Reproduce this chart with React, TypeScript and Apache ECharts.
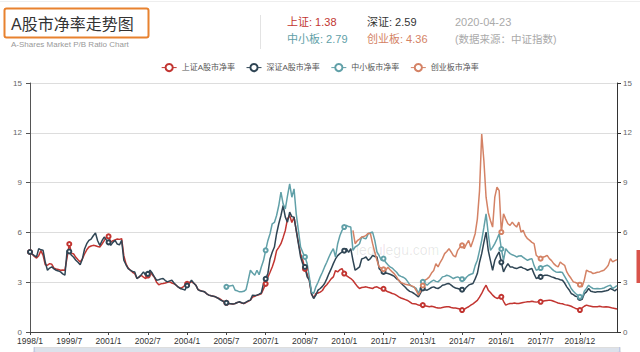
import React, { useEffect, useRef } from 'react';
import * as echarts from 'echarts';

const FONT = "'Liberation Sans', 'Noto Sans CJK SC', sans-serif";
const seriesNames = ['上证A股市净率', '深证A股市净率', '中小板市净率', '创业板市净率'];
const seriesColors = ['#c23531', '#2f4554', '#61a0a8', '#d48265'];
const xTickLabels = ['1998/1', '1999/7', '2001/1', '2002/7', '2004/1', '2005/7', '2007/1', '2008/7', '2010/1', '2011/7', '2013/1', '2014/7', '2016/1', '2017/7', '2018/12'];
const LABEL_STEP = 18;

// 上证A股市净率 (monthly points)
const shPB = [
  4.82, 4.68, 4.55, 4.45, 4.6, 4.9, 4.62, 4.05, 4.02, 4.12,
  4.08, 3.85, 3.8, 3.76, 3.72, 3.74, 3.72, 4.5, 5.3, 4.75,
  4.7, 4.5, 4.35, 4.22, 4.4, 4.7, 4.95, 5.12, 5.18, 5.22,
  5.2, 5.15, 5.12, 5.3, 5.5, 5.7, 5.76, 5.42, 5.5, 5.55,
  5.6, 5.58, 5.62, 4.6, 4.1, 3.85, 3.72, 3.6, 3.52, 3.25,
  3.3, 3.42, 3.3, 3.22, 3.4, 3.62, 3.45, 3.3, 3.0, 2.85,
  2.9, 2.92, 2.95, 3.0, 3.02, 2.95, 2.9, 2.82, 2.7, 2.62,
  2.7, 2.82, 2.9, 2.98, 3.02, 2.95, 2.82, 2.55, 2.5, 2.45,
  2.42, 2.3, 2.22, 2.18, 2.15, 2.12, 2.05, 2.0, 1.9, 1.82,
  1.76, 1.72, 1.7, 1.68, 1.72, 1.78, 1.8, 1.75, 1.72, 1.78,
  1.85, 1.92, 2.1, 2.15, 2.22, 2.25, 2.3, 2.6, 2.9, 3.3,
  3.6, 3.92, 4.3, 4.9, 5.1, 5.32, 5.7, 6.12, 6.82, 7.02,
  6.6, 6.92, 6.12, 5.4, 4.7, 4.32, 3.8, 3.5, 3.12, 2.3,
  2.05, 2.32, 2.35, 2.4, 2.5, 2.72, 2.85, 3.02, 3.2, 3.32,
  3.7, 3.62, 3.75, 3.82, 3.52, 3.4, 3.3, 3.22, 3.1, 2.92,
  2.75, 2.62, 2.68, 2.7, 2.72, 2.68, 2.65, 2.62, 2.7, 2.72,
  2.65, 2.6, 2.6, 2.5, 2.42, 2.38, 2.32, 2.28, 2.2, 2.12,
  2.05, 2.0, 1.95, 1.9, 1.82, 1.72, 1.7, 1.68, 1.62, 1.6,
  1.62, 1.58, 1.55, 1.52, 1.55, 1.52, 1.48, 1.45, 1.44, 1.48,
  1.5, 1.52, 1.52, 1.48, 1.45, 1.44, 1.42, 1.38, 1.32, 1.36,
  1.45, 1.52, 1.62, 1.7, 1.8, 1.9, 2.1, 2.32, 2.6, 2.82,
  2.52, 2.38, 2.22, 2.1, 2.02, 2.08, 2.12, 1.85, 1.62, 1.68,
  1.72, 1.72, 1.75, 1.72, 1.72, 1.75, 1.78, 1.8, 1.82, 1.82,
  1.85, 1.82, 1.8, 1.82, 1.82, 1.85, 1.88, 1.9, 1.92, 1.9,
  1.85, 1.8, 1.75, 1.72, 1.7, 1.65, 1.62, 1.6, 1.55, 1.48,
  1.42, 1.38, 1.32, 1.45, 1.55, 1.62, 1.58, 1.55, 1.52, 1.52,
  1.52, 1.55, 1.52, 1.5, 1.52, 1.5, 1.48, 1.44, 1.42, 1.38,
];

// 深证A股市净率
const szPB = [
  4.82, 4.7, 4.6, 4.52, 5.02, 4.95, 4.92, 4.2, 3.72, 3.85,
  3.92, 3.8, 3.72, 3.68, 3.62, 3.5, 3.42, 4.9, 4.85, 4.62,
  4.5, 4.32, 4.2, 4.05, 4.4, 5.0, 5.32, 5.52, 5.6, 5.8,
  5.96, 5.5, 5.22, 5.5, 5.72, 5.55, 5.4, 5.22, 5.4, 5.52,
  5.3, 5.25, 5.52, 4.32, 4.05, 3.82, 3.72, 3.65, 3.62, 3.22,
  3.32, 3.45, 3.62, 3.42, 3.5, 3.72, 3.55, 3.32, 3.12, 3.15,
  3.2, 3.22, 3.1, 3.02, 3.08, 3.12, 2.95, 2.82, 2.7, 2.62,
  2.58, 2.52, 2.8, 2.92, 3.12, 2.95, 2.82, 2.55, 2.48, 2.45,
  2.42, 2.3, 2.22, 2.18, 2.15, 2.12, 2.05, 1.95, 1.88, 1.82,
  1.76, 1.72, 1.7, 1.68, 1.72, 1.78, 1.82, 1.76, 1.72, 1.8,
  1.88, 1.92, 2.22, 2.2, 2.22, 2.28, 2.35, 2.92, 3.2, 3.52,
  4.4, 4.8, 5.12, 5.92, 6.52, 7.02, 7.62, 6.92, 6.62, 7.22,
  6.95, 6.92, 6.12, 5.32, 4.52, 4.1, 3.92, 3.32, 3.12, 2.3,
  2.02, 2.22, 2.52, 2.62, 2.75, 2.92, 3.2, 3.52, 3.8, 4.12,
  4.4, 4.6, 4.72, 4.82, 4.9, 5.02, 4.8, 5.02, 4.32, 3.72,
  3.82, 3.92, 4.4, 4.45, 4.52, 4.32, 4.42, 4.62, 4.55, 4.52,
  3.82, 3.7, 3.62, 3.55, 3.52, 3.48, 3.42, 3.35, 3.2, 3.12,
  2.95, 2.82, 2.7, 2.55, 2.45, 2.4, 2.32, 2.22, 2.12, 2.35,
  2.62, 2.55, 2.52, 2.6, 2.68, 2.72, 2.65, 2.62, 2.7, 2.82,
  2.85, 2.9, 2.92, 2.82, 2.72, 2.65, 2.62, 2.58, 2.55, 2.52,
  2.7, 2.82, 2.88, 2.92, 3.2, 3.52, 4.2, 4.72, 5.4, 6.02,
  4.92, 4.3, 3.72, 4.32, 4.6, 4.82, 4.2, 3.62, 3.9, 4.12,
  3.92, 3.92, 3.85, 3.82, 3.88, 3.92, 3.85, 3.8, 3.72, 3.78,
  3.82, 3.5, 3.22, 3.28, 3.32, 3.38, 3.42, 3.42, 3.38, 3.32,
  3.28, 3.22, 3.2, 3.15, 3.12, 2.95, 2.72, 2.55, 2.32, 2.25,
  2.15, 2.12, 2.05, 1.96, 2.3, 2.42, 2.62, 2.45, 2.42, 2.4,
  2.42, 2.42, 2.42, 2.45, 2.48, 2.52, 2.62, 2.55, 2.48, 2.59,
];

// 中小板市净率 (from point 90)
const SME_START = 90;
const smePB = [
  2.72, 2.75, 2.78, 2.82, 2.52, 2.48, 2.42, 2.42, 2.45, 2.55,
  3.12, 3.72, 3.55, 3.42, 3.72, 3.45, 3.92, 4.3, 4.92, 5.5,
  5.92, 6.52, 6.6, 7.02, 7.62, 8.42, 7.72, 7.42, 8.2, 8.92,
  8.12, 8.62, 7.12, 6.12, 5.12, 4.8, 4.52, 4.12, 3.32, 2.4,
  2.32, 2.72, 3.0, 3.32, 3.6, 3.92, 4.2, 4.52, 4.8, 5.02,
  4.52, 5.32, 5.8, 6.12, 6.32, 6.42, 6.35, 6.32, 4.92, 5.12,
  5.2, 5.32, 5.72, 5.65, 5.62, 5.92, 5.98, 6.02, 5.52, 4.82,
  4.6, 4.32, 4.42, 4.2, 4.05, 3.92, 3.85, 3.72, 3.6, 3.42,
  3.35, 3.3, 3.22, 3.05, 2.85, 2.75, 2.7, 2.62, 2.32, 2.7,
  3.02, 2.92, 2.82, 2.95, 3.05, 3.12, 3.05, 3.02, 3.15, 3.32,
  3.35, 3.42, 3.38, 3.3, 3.22, 3.28, 3.32, 3.25, 3.18, 3.12,
  3.3, 3.42, 3.48, 3.52, 4.0, 4.32, 4.9, 5.52, 6.3, 7.12,
  5.92, 4.92, 5.1, 5.32, 5.6, 5.92, 5.0, 4.32, 5.02, 4.85,
  4.72, 4.65, 4.6, 4.52, 4.58, 4.6, 4.5, 4.4, 4.32, 4.38,
  4.42, 4.0, 3.72, 3.78, 3.85, 3.92, 3.98, 4.02, 3.95, 3.82,
  3.7, 3.62, 3.6, 3.62, 3.58, 3.35, 3.12, 2.9, 2.62, 2.45,
  2.32, 2.22, 2.12, 2.02, 2.45, 2.62, 2.82, 2.7, 2.62, 2.6,
  2.62, 2.6, 2.62, 2.65, 2.72, 2.78, 2.82, 2.62, 2.7, 2.79,
];

// 创业板市净率 (from point 148)
const GEM_START = 148;
const gemPB = [
  6.12, 5.32,
  5.5, 5.6, 5.72, 5.75, 5.82, 5.95, 5.92, 5.32, 4.8, 4.32,
  3.92, 3.85, 3.78, 3.72, 3.9, 3.75, 3.62, 3.5, 3.32, 3.1,
  2.98, 2.92, 2.88, 2.85, 2.82, 2.78, 2.72, 2.5, 2.22, 2.45,
  2.8, 3.12, 3.2, 3.32, 3.55, 3.7, 4.12, 3.92, 4.2, 4.42,
  4.72, 4.85, 5.02, 4.82, 4.6, 4.52, 4.92, 5.1, 5.22, 5.02,
  5.3, 5.52, 5.12, 5.5, 5.92, 6.8, 8.5, 11.92, 10.32, 8.12,
  7.2, 6.72, 6.32, 8.12, 8.72, 8.52, 6.02, 7.12, 6.8, 6.52,
  6.42, 6.62, 6.45, 6.32, 6.62, 6.02, 6.12, 5.8, 5.62, 5.52,
  5.4, 5.32, 4.62, 4.5, 4.42, 4.5, 4.55, 4.62, 4.42, 4.3,
  4.12, 4.0, 3.92, 4.22, 4.1, 4.02, 3.62, 3.4, 3.22, 3.02,
  2.98, 2.92, 2.85, 2.72, 3.12, 3.72, 3.65, 3.62, 3.52, 3.55,
  3.6, 3.62, 3.68, 3.72, 3.85, 4.02, 4.42, 4.22, 4.3, 4.36,
];

const POINT_COUNT = shPB.length;
const categories: string[] = [];
for (let k = 0; k < POINT_COUNT; k++) {
  categories.push(`${1998 + Math.floor(k / 12)}/${(k % 12) + 1}`);
}
const tickLabelMap: Record<string, string> = {};
xTickLabels.forEach((lab, k) => {
  const c = categories[k * LABEL_STEP];
  if (c !== undefined) tickLabelMap[c] = lab;
});

const pad = (start: number, arr: number[]) => (new Array(start).fill(null) as (number | null)[]).concat(arr);

export default function App() {
  const ref = useRef<HTMLDivElement>(null);
  useEffect(() => {
    if (!ref.current) return;
    const chart = echarts.init(ref.current, null, { renderer: 'svg' });
    const seriesData = [shPB, szPB, pad(SME_START, smePB), pad(GEM_START, gemPB)];
    chart.setOption({
      animation: false,
      backgroundColor: '#ffffff',
      color: seriesColors,
      textStyle: { fontFamily: FONT },
      graphic: [
        { type: 'line', shape: { x1: 0, y1: 1.5, x2: 640, y2: 1.5 }, style: { stroke: '#eeeeee', lineWidth: 1 } },
        { type: 'rect', shape: { x: 4.5, y: 8.5, width: 144, height: 29, r: 2 }, style: { fill: 'none', stroke: '#e8822f', lineWidth: 2 } },
        { type: 'text', x: 11, y: 24, style: { text: 'A股市净率走势图', fill: '#333', font: `16px ${FONT}`, verticalAlign: 'middle', align: 'left' } },
        { type: 'text', x: 11, y: 44, style: { text: 'A-Shares Market P/B Ratio Chart', fill: '#999', font: `8px ${FONT}`, verticalAlign: 'middle', align: 'left' } },
        { type: 'line', shape: { x1: 260.5, y1: 15, x2: 260.5, y2: 49 }, style: { stroke: '#e3e3e3', lineWidth: 1 } },
        { type: 'text', x: 287, y: 22, style: { text: '上证: 1.38', fill: '#c23531', font: `11px ${FONT}`, verticalAlign: 'middle' } },
        { type: 'text', x: 287, y: 38.5, style: { text: '中小板: 2.79', fill: '#61a0a8', font: `11px ${FONT}`, verticalAlign: 'middle' } },
        { type: 'text', x: 367, y: 22, style: { text: '深证: 2.59', fill: '#333', font: `11px ${FONT}`, verticalAlign: 'middle' } },
        { type: 'text', x: 367, y: 38.5, style: { text: '创业板: 4.36', fill: '#d48265', font: `11px ${FONT}`, verticalAlign: 'middle' } },
        { type: 'text', x: 455, y: 22, style: { text: '2020-04-23', fill: '#aaa', font: `11px ${FONT}`, verticalAlign: 'middle' } },
        { type: 'text', x: 455, y: 39, style: { text: '(数据来源：中证指数)', fill: '#aaa', font: `10.5px ${FONT}`, verticalAlign: 'middle' } },
        { type: 'text', x: 356, y: 250, z: -1, style: { text: 'legulegu.com', fill: 'rgba(0,0,0,0.1)', font: `14px ${FONT}`, verticalAlign: 'middle' } },
        { type: 'rect', shape: { x: 636.5, y: 250, width: 4, height: 33 }, style: { fill: '#d9534a' } },
      ],
      legend: {
        data: seriesNames,
        top: 58,
        left: 'center',
        itemWidth: 15,
        itemHeight: 9,
        itemGap: 11,
        itemStyle: { borderWidth: 1 },
        lineStyle: { width: 1 },
        textStyle: { fontSize: 8, color: '#555' },
      },
      grid: { left: 30, width: 587, top: 83, height: 249 },
      xAxis: {
        type: 'category',
        data: categories,
        boundaryGap: false,
        axisLine: { lineStyle: { color: '#444' } },
        axisTick: { interval: LABEL_STEP - 1, length: 3, lineStyle: { color: '#444' } },
        axisLabel: {
          interval: LABEL_STEP - 1,
          fontSize: 8.5,
          color: '#333',
          margin: 5,
          formatter: (v: string) => tickLabelMap[v] ?? '',
        },
        splitLine: { show: false },
      },
      yAxis: [
        {
          type: 'value', min: 0, max: 15, interval: 3, position: 'left',
          axisLine: { show: true, lineStyle: { color: '#555' } },
          axisTick: { show: true, length: 4, lineStyle: { color: '#555' } },
          axisLabel: { fontSize: 8, color: '#666', margin: 8 },
          splitLine: { show: true, lineStyle: { color: '#dddddd' } },
        },
        {
          type: 'value', min: 0, max: 15, interval: 3, position: 'right',
          axisLine: { show: true, lineStyle: { color: '#333' } },
          axisTick: { show: true, length: 4, lineStyle: { color: '#333' } },
          axisLabel: { fontSize: 8, color: '#666', margin: 6 },
          splitLine: { show: false },
        },
      ],
      dataZoom: [
        {
          type: 'slider', xAxisIndex: 0, start: 0, end: 100,
          left: 31, right: 22, top: 347, height: 28,
          showDetail: false, brushSelect: false, moveHandleSize: 0,
          borderColor: '#dddddd', backgroundColor: 'rgba(47,69,84,0)',
          fillerColor: 'rgba(167,183,204,0.4)',
          dataBackground: {
            lineStyle: { color: '#2f4554', width: 0.5, opacity: 0.3 },
            areaStyle: { color: 'rgba(47,69,84,0.3)' },
          },
          handleStyle: { color: '#a7b7cc' },
        },
      ],
      series: seriesNames.map((name, k) => ({
        name,
        type: 'line',
        yAxisIndex: 0,
        data: seriesData[k],
        symbol: 'emptyCircle',
        symbolSize: 4,
        itemStyle: { borderWidth: 1 },
        lineStyle: { width: 1.5 },
      })),
    });
    return () => chart.dispose();
  }, []);
  return <div ref={ref} style={{ position: 'absolute', left: 0, top: 0, width: 640, height: 352 }} />;
}
